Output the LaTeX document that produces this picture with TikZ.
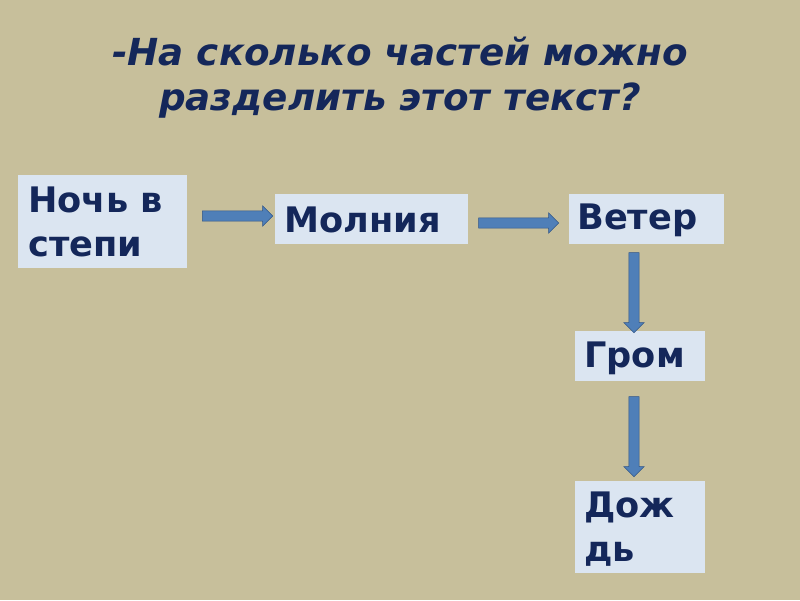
\documentclass[tikz,border=0pt]{standalone}
\usepackage{fontspec}
\setmainfont{DejaVu Sans}
\usetikzlibrary{shapes.arrows}
\definecolor{bgkhaki}{HTML}{C7BF9B}
\definecolor{boxblue}{HTML}{DBE5F1}
\definecolor{txtnavy}{HTML}{14275A}
\definecolor{arrfill}{HTML}{4F7FB8}
\definecolor{arrline}{HTML}{2F5588}
\tikzset{
  stepbox/.style={fill=boxblue, text=txtnavy, font=\fontsize{25}{31}\selectfont\bfseries,
    anchor=west, align=left, inner sep=0pt},
  blockarrow/.style={single arrow, fill=arrfill, draw=arrline, thin, inner sep=3.5pt,
    single arrow head extend=3.5pt, minimum height=#1},
}
\begin{document}
\begin{tikzpicture}[x=0.025cm,y=-0.025cm]
\useasboundingbox[fill=bgkhaki] (0,0) rectangle (800,600);
\node[text=txtnavy, font=\fontsize{26.5}{32}\selectfont\bfseries\itshape, align=center] (title) at (400,78)
  {-На сколько частей можно\\разделить этот текст?};
% boxes
\fill[boxblue] (18,175) rectangle (187,268);
\node[stepbox] (night) at (28,222) {Ночь в\\степи};
\fill[boxblue] (275,194) rectangle (468,244);
\node[stepbox] (lightning) at (284,220) {Молния};
\fill[boxblue] (569,194) rectangle (724,244);
\node[stepbox] (wind) at (577,220) {Ветер};
\fill[boxblue] (575,331) rectangle (705,381);
\node[stepbox] (thunder) at (584,358) {Гром};
\fill[boxblue] (575,481) rectangle (705,573);
\node[stepbox] (rain) at (584,529) {Дож\\дь};
% arrows
\node[blockarrow=50pt] (a1) at (235,216) {};
\node[blockarrow=57pt] (a2) at (516,223) {};
\node[blockarrow=57pt, shape border rotate=270] (a3) at (634,290) {};
\node[blockarrow=57pt, shape border rotate=270] (a4) at (634,434) {};
\end{tikzpicture}
\end{document}
